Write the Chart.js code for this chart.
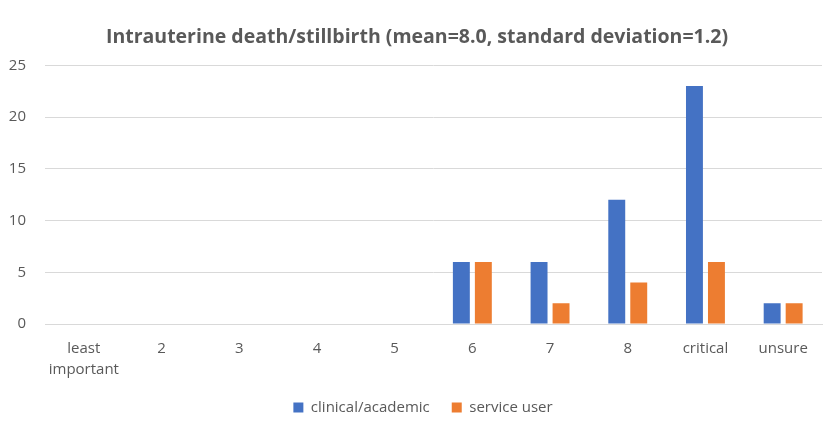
<!DOCTYPE html>
<html>
<head>
<meta charset="utf-8">
<script src="https://cdn.jsdelivr.net/npm/chart.js@4"></script>
<style>
  html, body { margin: 0; padding: 0; background: #fff; }
  #wrap { width: 839px; height: 434px; }
</style>
</head>
<body>
<div id="wrap"><canvas id="myChart"></canvas></div>
<script>
const categories = [['least', 'important'], '2', '3', '4', '5', '6', '7', '8', 'critical', 'unsure'];
const clinicalAcademic = [0, 0, 0, 0, 0, 6, 6, 12, 23, 2];
const serviceUser = [0, 0, 0, 0, 0, 6, 2, 4, 6, 2];

const textColor = '#595959';
const fontFamily = "'Open Sans', 'Liberation Sans', sans-serif";

// nudge legend/title: a bit to the right, legend up so the plot can use the freed space
const nudge = {
    id: 'nudge',
    afterLayout(chart) {
        const lg = chart.legend;
        lg.left += 12; lg.right += 12;
        lg.top -= 8; lg.bottom -= 8;
        const tb = chart.titleBlock;
        tb.left += 6; tb.right += 6;
    }
};

const ctx = document.getElementById('myChart').getContext('2d');
const myChart = new Chart(ctx, {
    type: 'bar',
    data: {
        labels: categories,
        datasets: [{
            label: 'clinical/academic',
            data: clinicalAcademic,
            backgroundColor: '#4472C4',
            categoryPercentage: 0.566,
            barPercentage: 0.77
        },
        {
            label: 'service user',
            data: serviceUser,
            backgroundColor: '#ED7D31',
            categoryPercentage: 0.566,
            barPercentage: 0.77
        }]
    },
    plugins: [nudge],
    options: {
        responsive: true,
        maintainAspectRatio: false,
        animation: false,
        layout: {
            padding: { left: 0, right: 17, top: 26, bottom: 1 }
        },
        plugins: {
            title: {
                display: true,
                text: 'Intrauterine death/stillbirth (mean=8.0, standard deviation=1.2)',
                color: textColor,
                font: { size: 19.5, weight: 'bold', family: fontFamily, lineHeight: 1.2 },
                padding: { top: 0, bottom: 16 }
            },
            legend: {
                display: true,
                position: 'bottom',
                labels: {
                    color: textColor,
                    boxWidth: 10,
                    boxHeight: 10,
                    padding: 22,
                    font: { size: 15, family: fontFamily }
                }
            },
            tooltip: { enabled: false }
        },
        scales: {
            x: {
                grid: { display: false },
                border: { color: '#d9d9d9' },
                ticks: {
                    color: textColor,
                    maxRotation: 0,
                    autoSkip: false,
                    padding: 6,
                    font: { size: 15, family: fontFamily, lineHeight: 1.4 }
                }
            },
            y: {
                beginAtZero: true,
                min: 0,
                max: 25,
                border: { display: false },
                grid: { color: '#d9d9d9', drawTicks: false },
                afterFit: function (scale) { scale.width = 45; },
                ticks: {
                    stepSize: 5,
                    color: textColor,
                    padding: 19,
                    font: { size: 15, family: fontFamily }
                }
            }
        }
    }
});
</script>
</body>
</html>
